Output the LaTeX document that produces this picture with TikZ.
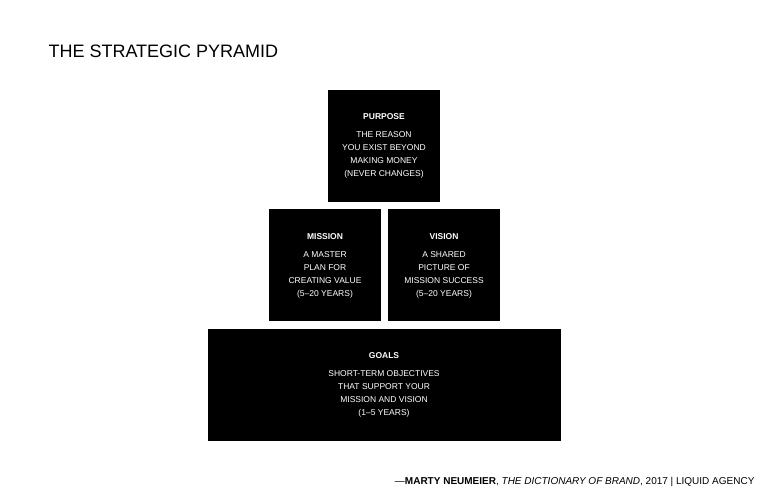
\documentclass[tikz,border=0pt]{standalone}
\usepackage{fontspec}
\setmainfont{Liberation Sans}
\begin{document}
\begin{tikzpicture}[x=1pt,y=-1pt,
  blk/.style={fill=black,draw=none},
  hd/.style={text=white,font=\fontsize{8.5}{10}\selectfont\bfseries,anchor=center},
  bd/.style={text=white,font=\fontsize{8.5}{13}\selectfont,align=center,anchor=north}]
\useasboundingbox (0,0) rectangle (768,497);
\fill[white] (0,0) rectangle (768,497);
\node[anchor=west,font=\fontsize{18}{20}\selectfont] (title) at (45,51) {THE STRATEGIC PYRAMID};
\fill[blk] (328,90) rectangle (440,202);
\node (pb) at (384,146) {};
\node[hd] (ph) at (384,117) {PURPOSE};
\node[bd] (pt) at (384,128) {THE REASON\\YOU EXIST BEYOND\\MAKING MONEY\\(NEVER CHANGES)};
\fill[blk] (269,209) rectangle (381,321);
\node[hd] (mh) at (325,237) {MISSION};
\node[bd] (mt) at (325,248) {A MASTER\\PLAN FOR\\CREATING VALUE\\(5–20 YEARS)};
\fill[blk] (388,209) rectangle (500,321);
\node[hd] (vh) at (444,237) {VISION};
\node[bd] (vt) at (444,248) {A SHARED\\PICTURE OF\\MISSION SUCCESS\\(5–20 YEARS)};
\fill[blk] (208,329) rectangle (561,441);
\node[hd] (gh) at (384,356) {GOALS};
\node[bd] (gt) at (384,367) {SHORT-TERM OBJECTIVES\\THAT SUPPORT YOUR\\MISSION AND VISION\\(1–5 YEARS)};
\node[anchor=east,font=\fontsize{10}{12}\selectfont] (foot) at (758,482) {—\textbf{MARTY NEUMEIER}, \textit{THE DICTIONARY OF BRAND}, 2017 | LIQUID AGENCY};
\end{tikzpicture}
\end{document}
